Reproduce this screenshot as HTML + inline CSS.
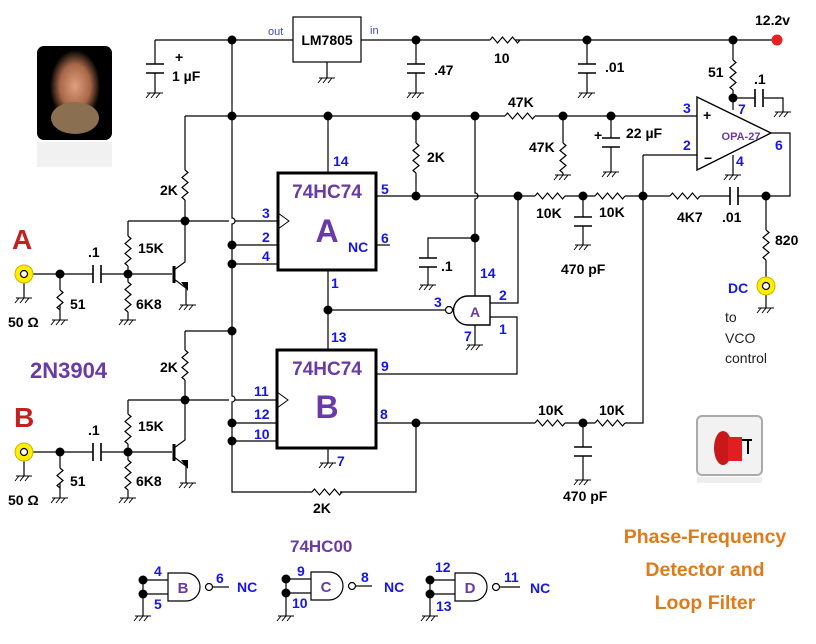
<!DOCTYPE html>
<html><head><meta charset="utf-8"><style>
html,body{margin:0;padding:0;background:#fff}
svg{display:block}
text{font-family:"Liberation Sans",sans-serif;font-weight:bold}
.k{fill:#000;font-size:14px}
.b{fill:#1515ee;font-size:14px}
.p{fill:#6a3aa8}
</style></head><body>
<svg width="816" height="644" viewBox="0 0 816 644" xmlns="http://www.w3.org/2000/svg">
<defs>
<symbol id="rh" overflow="visible"><path d="M0 0 l2.5 -3 5 6 5 -6 5 6 5 -6 5 6 2.5 -3" fill="none" stroke="#000" stroke-width="1.2"/></symbol>
<symbol id="rv" overflow="visible"><path d="M0 0 l3 2.5 -6 5 6 5 -6 5 6 5 -6 5 3 2.5" fill="none" stroke="#000" stroke-width="1.2"/></symbol>
<symbol id="g" overflow="visible"><path d="M-8 0 h16 M-5 0 l-4 5 M0 0 l-4 5 M5 0 l-4 5" fill="none" stroke="#000" stroke-width="1"/></symbol>
<symbol id="cv" overflow="visible"><path d="M-9 0 h18 M-9 9 h18" stroke="#000" stroke-width="1.6"/></symbol>
<symbol id="ch" overflow="visible"><path d="M0 -9 v18 M8 -9 v18" stroke="#000" stroke-width="1.6"/></symbol>
<radialGradient id="face" cx="50%" cy="45%" r="45%"><stop offset="0" stop-color="#e0a080"/><stop offset="0.6" stop-color="#a86848"/><stop offset="1" stop-color="#000"/></radialGradient>
</defs>

<rect x="37" y="46" width="75" height="94" rx="7" fill="#000"/>
<ellipse cx="75" cy="90" rx="28" ry="40" fill="url(#face)"/>
<ellipse cx="75" cy="118" rx="24" ry="16" fill="#8a7050"/>
<rect x="37" y="142" width="75" height="25" fill="#eee" opacity="0.8"/>

<g stroke="#000" stroke-width="1.2" fill="none">
<path d="M155 40 H293 M361 40 H490 M515 40 H775"/>
<path d="M155 40 V64 M155 73 V93"/>
<path d="M327 62 V78"/>
<path d="M416 40 V64 M416 73 V93"/>
<path d="M587 40 V64 M587 73 V93"/>
<path d="M232 40 V218 a3 3 0 0 1 0 6 V396 a3 3 0 0 1 0 6 V492 H312 M340 492 H416 V423"/>
<path d="M185 116 H505 M535 116 H697"/>
<path d="M185 116 V170 M185 200 V221"/>
<path d="M328 116 V172"/>
<path d="M416 116 V143 M416 173 V196"/>
<path d="M563 116 V143 M563 173 V175"/>
<path d="M611 116 V138 M611 147 V172"/>
<path d="M475 116 V193 a3 3 0 0 1 0 6 V296"/>
<path d="M475 238 H428 V258 M428 267 V285"/>
<path d="M475 325 V345"/>
<path d="M376 196 H535 M565 196 H595 M625 196 H670 M700 196 H730 M738 196 H790 V133 H771"/>
<path d="M583 196 V217 M583 226 V245"/>
<path d="M643 155 H697 M643 155 V423 H625 M595 423 H565 M535 423 H376"/>
<path d="M766 196 V230 M766 260 V278 M766 294 V308"/>
<path d="M518 196 V303 H490 M490 317 H517 V374 H376"/>
<path d="M583 423 V447 M583 456 V480"/>
<path d="M697 97 L771 133 L697 170 Z" stroke-width="1.4"/>
<path d="M733 40 V60 M733 90 V110"/>
<path d="M733 98 H755 M764 98 H783 V112"/>
<path d="M733 155 V175"/>
<path d="M376 245 H390"/>
<path d="M328 270 V349"/>
<path d="M232 245 H277 M232 264 H277"/>
<path d="M232 423 H277 M232 441 H277"/>
<path d="M328 449 V463"/>
<path d="M328 310 H445"/>
<path d="M128 221 H229 M235 221 H277"/>
<path d="M128 221 V236 M128 266 V282 M128 312 V320"/>
<path d="M24 274 H93 M101 274 H172"/>
<path d="M60 274 V290 M60 305 V320"/>
<path d="M24 282 V298"/>
<path d="M174 266 V283" stroke-width="3"/>
<path d="M174 270 L185 262 V221 M174 279 L186 288 V305"/>
<path d="M185 331 H232 M185 331 V350 M185 380 V400"/>
<path d="M128 400 H229 M235 400 H277"/>
<path d="M128 400 V414 M128 444 V460 M128 490 V498"/>
<path d="M24 452 H93 M101 452 H172"/>
<path d="M60 452 V468 M60 483 V498"/>
<path d="M24 460 V476"/>
<path d="M174 444 V461" stroke-width="3"/>
<path d="M174 448 L185 440 V400 M174 457 L186 466 V483"/>
</g>
<path d="M181 282 L188 291 L188 282 Z M181 460 L188 469 L188 460 Z" fill="#000"/>

<use href="#rh" x="490" y="40"/>
<use href="#rh" x="505" y="116"/>
<use href="#rh" x="535" y="196"/><use href="#rh" x="595" y="196"/><use href="#rh" x="670" y="196"/>
<use href="#rh" x="535" y="423"/><use href="#rh" x="595" y="423"/>
<use href="#rh" x="312" y="492"/>
<use href="#rv" x="185" y="170"/><use href="#rv" x="416" y="143"/><use href="#rv" x="563" y="143"/>
<use href="#rv" x="733" y="60"/><use href="#rv" x="766" y="230"/>
<use href="#rv" x="128" y="236"/>
<use href="#rv" x="185" y="350"/><use href="#rv" x="128" y="414"/>
<g stroke="#000" stroke-width="1.2" fill="none">
<path d="M128 282 l3 2.5 -6 5 6 5 -6 5 6 5 -6 5 3 2.5"/>
<path d="M60 290 l3 2.5 -6 5 6 5 -6 5 3 2.5"/>
<path d="M128 460 l3 2.5 -6 5 6 5 -6 5 6 5 -6 5 3 2.5"/>
<path d="M60 468 l3 2.5 -6 5 6 5 -6 5 3 2.5"/>
</g>
<use href="#cv" x="155" y="64"/><use href="#cv" x="416" y="64"/><use href="#cv" x="587" y="64"/>
<use href="#cv" x="611" y="138"/><use href="#cv" x="428" y="258"/><use href="#cv" x="583" y="217"/><use href="#cv" x="583" y="447"/>
<use href="#ch" x="730" y="196"/><use href="#ch" x="755" y="98"/>
<use href="#ch" x="93" y="274"/><use href="#ch" x="93" y="452"/>
<use href="#g" x="155" y="93"/><use href="#g" x="327" y="78"/><use href="#g" x="416" y="93"/><use href="#g" x="587" y="93"/>
<use href="#g" x="563" y="175"/><use href="#g" x="611" y="172"/><use href="#g" x="783" y="112"/><use href="#g" x="733" y="175"/>
<use href="#g" x="428" y="285"/><use href="#g" x="583" y="245"/><use href="#g" x="583" y="480"/><use href="#g" x="475" y="345"/>
<use href="#g" x="766" y="308"/><use href="#g" x="328" y="463"/>
<use href="#g" x="24" y="298"/><use href="#g" x="60" y="320"/><use href="#g" x="128" y="320"/><use href="#g" x="188" y="305"/>
<use href="#g" x="24" y="476"/><use href="#g" x="60" y="498"/><use href="#g" x="128" y="498"/><use href="#g" x="188" y="483"/>
<use href="#g" x="143" y="616"/><use href="#g" x="286" y="616"/><use href="#g" x="430" y="616"/>

<rect x="293" y="17" width="68" height="45" fill="#fff" stroke="#000" stroke-width="1.2"/>
<text x="327" y="45" class="k" text-anchor="middle" font-size="14">LM7805</text>
<text x="268" y="35" fill="#3a4acc" font-size="11" style="font-weight:normal">out</text>
<text x="370" y="34" fill="#3a4acc" font-size="11" style="font-weight:normal">in</text>

<rect x="278" y="173" width="98" height="97" fill="#fff" stroke="#000" stroke-width="3"/>
<path d="M278 213 L289 221 L278 229" fill="none" stroke="#000" stroke-width="1"/>
<rect x="277" y="350" width="99" height="98" fill="#fff" stroke="#000" stroke-width="3"/>
<path d="M277 392 L288 400 L277 408" fill="none" stroke="#000" stroke-width="1"/>
<text x="327" y="198" class="p" text-anchor="middle" font-size="19">74HC74</text>
<text x="327" y="242" class="p" text-anchor="middle" font-size="32">A</text>
<text x="327" y="375" class="p" text-anchor="middle" font-size="19">74HC74</text>
<text x="327" y="418" class="p" text-anchor="middle" font-size="32">B</text>

<text x="703" y="120" class="k" font-size="14">+</text>
<text x="704" y="163" class="k" font-size="14">−</text>
<text x="741" y="140" class="p" text-anchor="middle" font-size="11">OPA-27</text>

<path d="M468 296 H490 V325 H468 A14.5 14.5 0 0 1 468 296 Z" fill="#fff" stroke="#000" stroke-width="1.4"/>
<circle cx="449" cy="310" r="3.5" fill="#fff" stroke="#000" stroke-width="1.2"/>
<text x="475" y="317" class="p" text-anchor="middle" font-size="14">A</text>

<g stroke="#000" stroke-width="1.2" fill="#fff">
<path d="M143 580 H168 M143 594 H168 M143 578 V616" fill="none"/>
<path d="M168 573 H186 A14 14 0 0 1 186 601 H168 Z"/>
<circle cx="209" cy="587" r="3.5"/>
<path d="M213 587 H229" fill="none"/>
<path d="M286 579 H311 M286 593 H311 M286 577 V616" fill="none"/>
<path d="M311 572 H329 A14 14 0 0 1 329 600 H311 Z"/>
<circle cx="352" cy="586" r="3.5"/>
<path d="M356 586 H372" fill="none"/>
<path d="M430 580 H455 M430 594 H455 M430 578 V616" fill="none"/>
<path d="M455 573 H473 A14 14 0 0 1 473 601 H455 Z"/>
<circle cx="496" cy="587" r="3.5"/>
<path d="M500 587 H520" fill="none"/>
</g>
<text x="183" y="593" class="p" text-anchor="middle" font-size="15">B</text>
<text x="326" y="592" class="p" text-anchor="middle" font-size="15">C</text>
<text x="470" y="593" class="p" text-anchor="middle" font-size="15">D</text>

<g fill="#000">
<circle cx="232" cy="40" r="4.5"/><circle cx="416" cy="40" r="4.5"/><circle cx="587" cy="40" r="4.5"/><circle cx="733" cy="40" r="4.5"/>
<circle cx="232" cy="116" r="4.5"/><circle cx="328" cy="116" r="4.5"/><circle cx="416" cy="116" r="4.5"/><circle cx="475" cy="116" r="4.5"/><circle cx="563" cy="116" r="4.5"/><circle cx="611" cy="116" r="4.5"/>
<circle cx="733" cy="98" r="4.5"/>
<circle cx="416" cy="196" r="4.5"/><circle cx="518" cy="196" r="4.5"/><circle cx="583" cy="196" r="4.5"/><circle cx="643" cy="196" r="4.5"/><circle cx="766" cy="196" r="4.5"/>
<circle cx="185" cy="221" r="4.5"/><circle cx="232" cy="245" r="4.5"/><circle cx="232" cy="264" r="4.5"/>
<circle cx="475" cy="238" r="4.5"/>
<circle cx="60" cy="274" r="4.5"/><circle cx="128" cy="274" r="4.5"/>
<circle cx="328" cy="310" r="4.5"/><circle cx="232" cy="331" r="4.5"/>
<circle cx="185" cy="400" r="4.5"/><circle cx="232" cy="423" r="4.5"/><circle cx="232" cy="441" r="4.5"/>
<circle cx="416" cy="423" r="4.5"/><circle cx="583" cy="423" r="4.5"/>
<circle cx="60" cy="452" r="4.5"/><circle cx="128" cy="452" r="4.5"/>
<circle cx="143" cy="580" r="4.5"/><circle cx="143" cy="594" r="4.5"/>
<circle cx="286" cy="579" r="4.5"/><circle cx="286" cy="593" r="4.5"/>
<circle cx="430" cy="580" r="4.5"/><circle cx="430" cy="594" r="4.5"/>
</g>
<circle cx="777" cy="40" r="5.5" fill="#e82020"/>
<g fill="#ffee00" stroke="#c8b400" stroke-width="1">
<circle cx="24" cy="274" r="9"/><circle cx="24" cy="452" r="9"/><circle cx="766" cy="286" r="9"/>
</g>
<g fill="#fff" stroke="#000" stroke-width="1.2">
<circle cx="24" cy="274" r="3.5"/><circle cx="24" cy="452" r="3.5"/><circle cx="766" cy="286" r="3.5"/>
</g>

<text x="755" y="25" class="k" font-size="14">12.2v</text>
<text x="175" y="62" class="k" font-size="20">+</text>
<text x="172" y="81" class="k">1 µF</text>
<text x="434" y="75" class="k">.47</text>
<text x="494" y="63" class="k">10</text>
<text x="605" y="72" class="k">.01</text>
<text x="708" y="77" class="k">51</text>
<text x="754" y="84" class="k">.1</text>
<text x="508" y="107" class="k">47K</text>
<text x="529" y="152" class="k">47K</text>
<text x="594" y="140" class="k" font-size="20">+</text>
<text x="626" y="138" class="k">22 µF</text>
<text x="427" y="162" class="k">2K</text>
<text x="160" y="195" class="k">2K</text>
<text x="536" y="218" class="k">10K</text>
<text x="599" y="217" class="k">10K</text>
<text x="677" y="222" class="k">4K7</text>
<text x="722" y="222" class="k">.01</text>
<text x="775" y="245" class="k">820</text>
<text x="561" y="274" class="k">470 pF</text>
<text x="441" y="271" class="k">.1</text>
<text x="88" y="257" class="k">.1</text>
<text x="138" y="253" class="k">15K</text>
<text x="70" y="309" class="k">51</text>
<text x="136" y="309" class="k">6K8</text>
<text x="8" y="327" class="k" font-size="13">50 Ω</text>
<text x="160" y="372" class="k">2K</text>
<text x="88" y="435" class="k">.1</text>
<text x="138" y="431" class="k">15K</text>
<text x="70" y="486" class="k">51</text>
<text x="136" y="486" class="k">6K8</text>
<text x="8" y="505" class="k" font-size="13">50 Ω</text>
<text x="538" y="415" class="k">10K</text>
<text x="599" y="415" class="k">10K</text>
<text x="563" y="501" class="k">470 pF</text>
<text x="313" y="513" class="k">2K</text>
<text x="725" y="322" fill="#222" font-size="14" style="font-weight:normal">to</text>
<text x="725" y="343" fill="#222" font-size="14" style="font-weight:normal">VCO</text>
<text x="725" y="363" fill="#222" font-size="14" style="font-weight:normal">control</text>

<text x="333" y="166" class="b">14</text>
<text x="381" y="194" class="b">5</text>
<text x="262" y="218" class="b">3</text>
<text x="262" y="242" class="b">2</text>
<text x="262" y="261" class="b">4</text>
<text x="381" y="243" class="b">6</text>
<text x="348" y="252" class="b">NC</text>
<text x="331" y="288" class="b">1</text>
<text x="331" y="342" class="b">13</text>
<text x="381" y="371" class="b">9</text>
<text x="254" y="396" class="b">11</text>
<text x="254" y="419" class="b">12</text>
<text x="254" y="439" class="b">10</text>
<text x="380" y="419" class="b">8</text>
<text x="337" y="466" class="b">7</text>
<text x="480" y="278" class="b">14</text>
<text x="434" y="307" class="b">3</text>
<text x="499" y="300" class="b">2</text>
<text x="499" y="334" class="b">1</text>
<text x="464" y="341" class="b">7</text>
<text x="683" y="113" class="b">3</text>
<text x="683" y="150" class="b">2</text>
<text x="738" y="114" class="b">7</text>
<text x="736" y="166" class="b">4</text>
<text x="775" y="150" class="b">6</text>
<text x="728" y="293" class="b">DC</text>
<text x="154" y="576" class="b">4</text>
<text x="154" y="609" class="b">5</text>
<text x="216" y="583" class="b">6</text>
<text x="237" y="592" class="b">NC</text>
<text x="297" y="576" class="b">9</text>
<text x="292" y="608" class="b">10</text>
<text x="361" y="582" class="b">8</text>
<text x="384" y="592" class="b">NC</text>
<text x="435" y="572" class="b">12</text>
<text x="436" y="611" class="b">13</text>
<text x="504" y="582" class="b">11</text>
<text x="530" y="593" class="b">NC</text>

<text x="12" y="249" fill="#c42020" font-size="28">A</text>
<text x="14" y="427" fill="#c42020" font-size="28">B</text>
<text x="30" y="378" class="p" font-size="22">2N3904</text>
<text x="290" y="552" class="p" font-size="17">74HC00</text>
<text x="705" y="543" fill="#e07a1a" font-size="19.5" text-anchor="middle">Phase-Frequency</text>
<text x="705" y="576" fill="#e07a1a" font-size="19.5" text-anchor="middle">Detector  and</text>
<text x="705" y="609" fill="#e07a1a" font-size="19.5" text-anchor="middle">Loop Filter</text>

<rect x="697" y="416" width="65" height="59" rx="5" fill="#f2f2f2" stroke="#aaa" stroke-width="2"/>
<ellipse cx="723" cy="448" rx="9" ry="17" fill="#c81818"/>
<rect x="728" y="437" width="14" height="24" fill="#e02020"/>
<path d="M742 440 h10 M748 440 v14" stroke="#000" stroke-width="2"/>
<rect x="697" y="477" width="65" height="6" fill="#eee"/>
</svg>
</body></html>
